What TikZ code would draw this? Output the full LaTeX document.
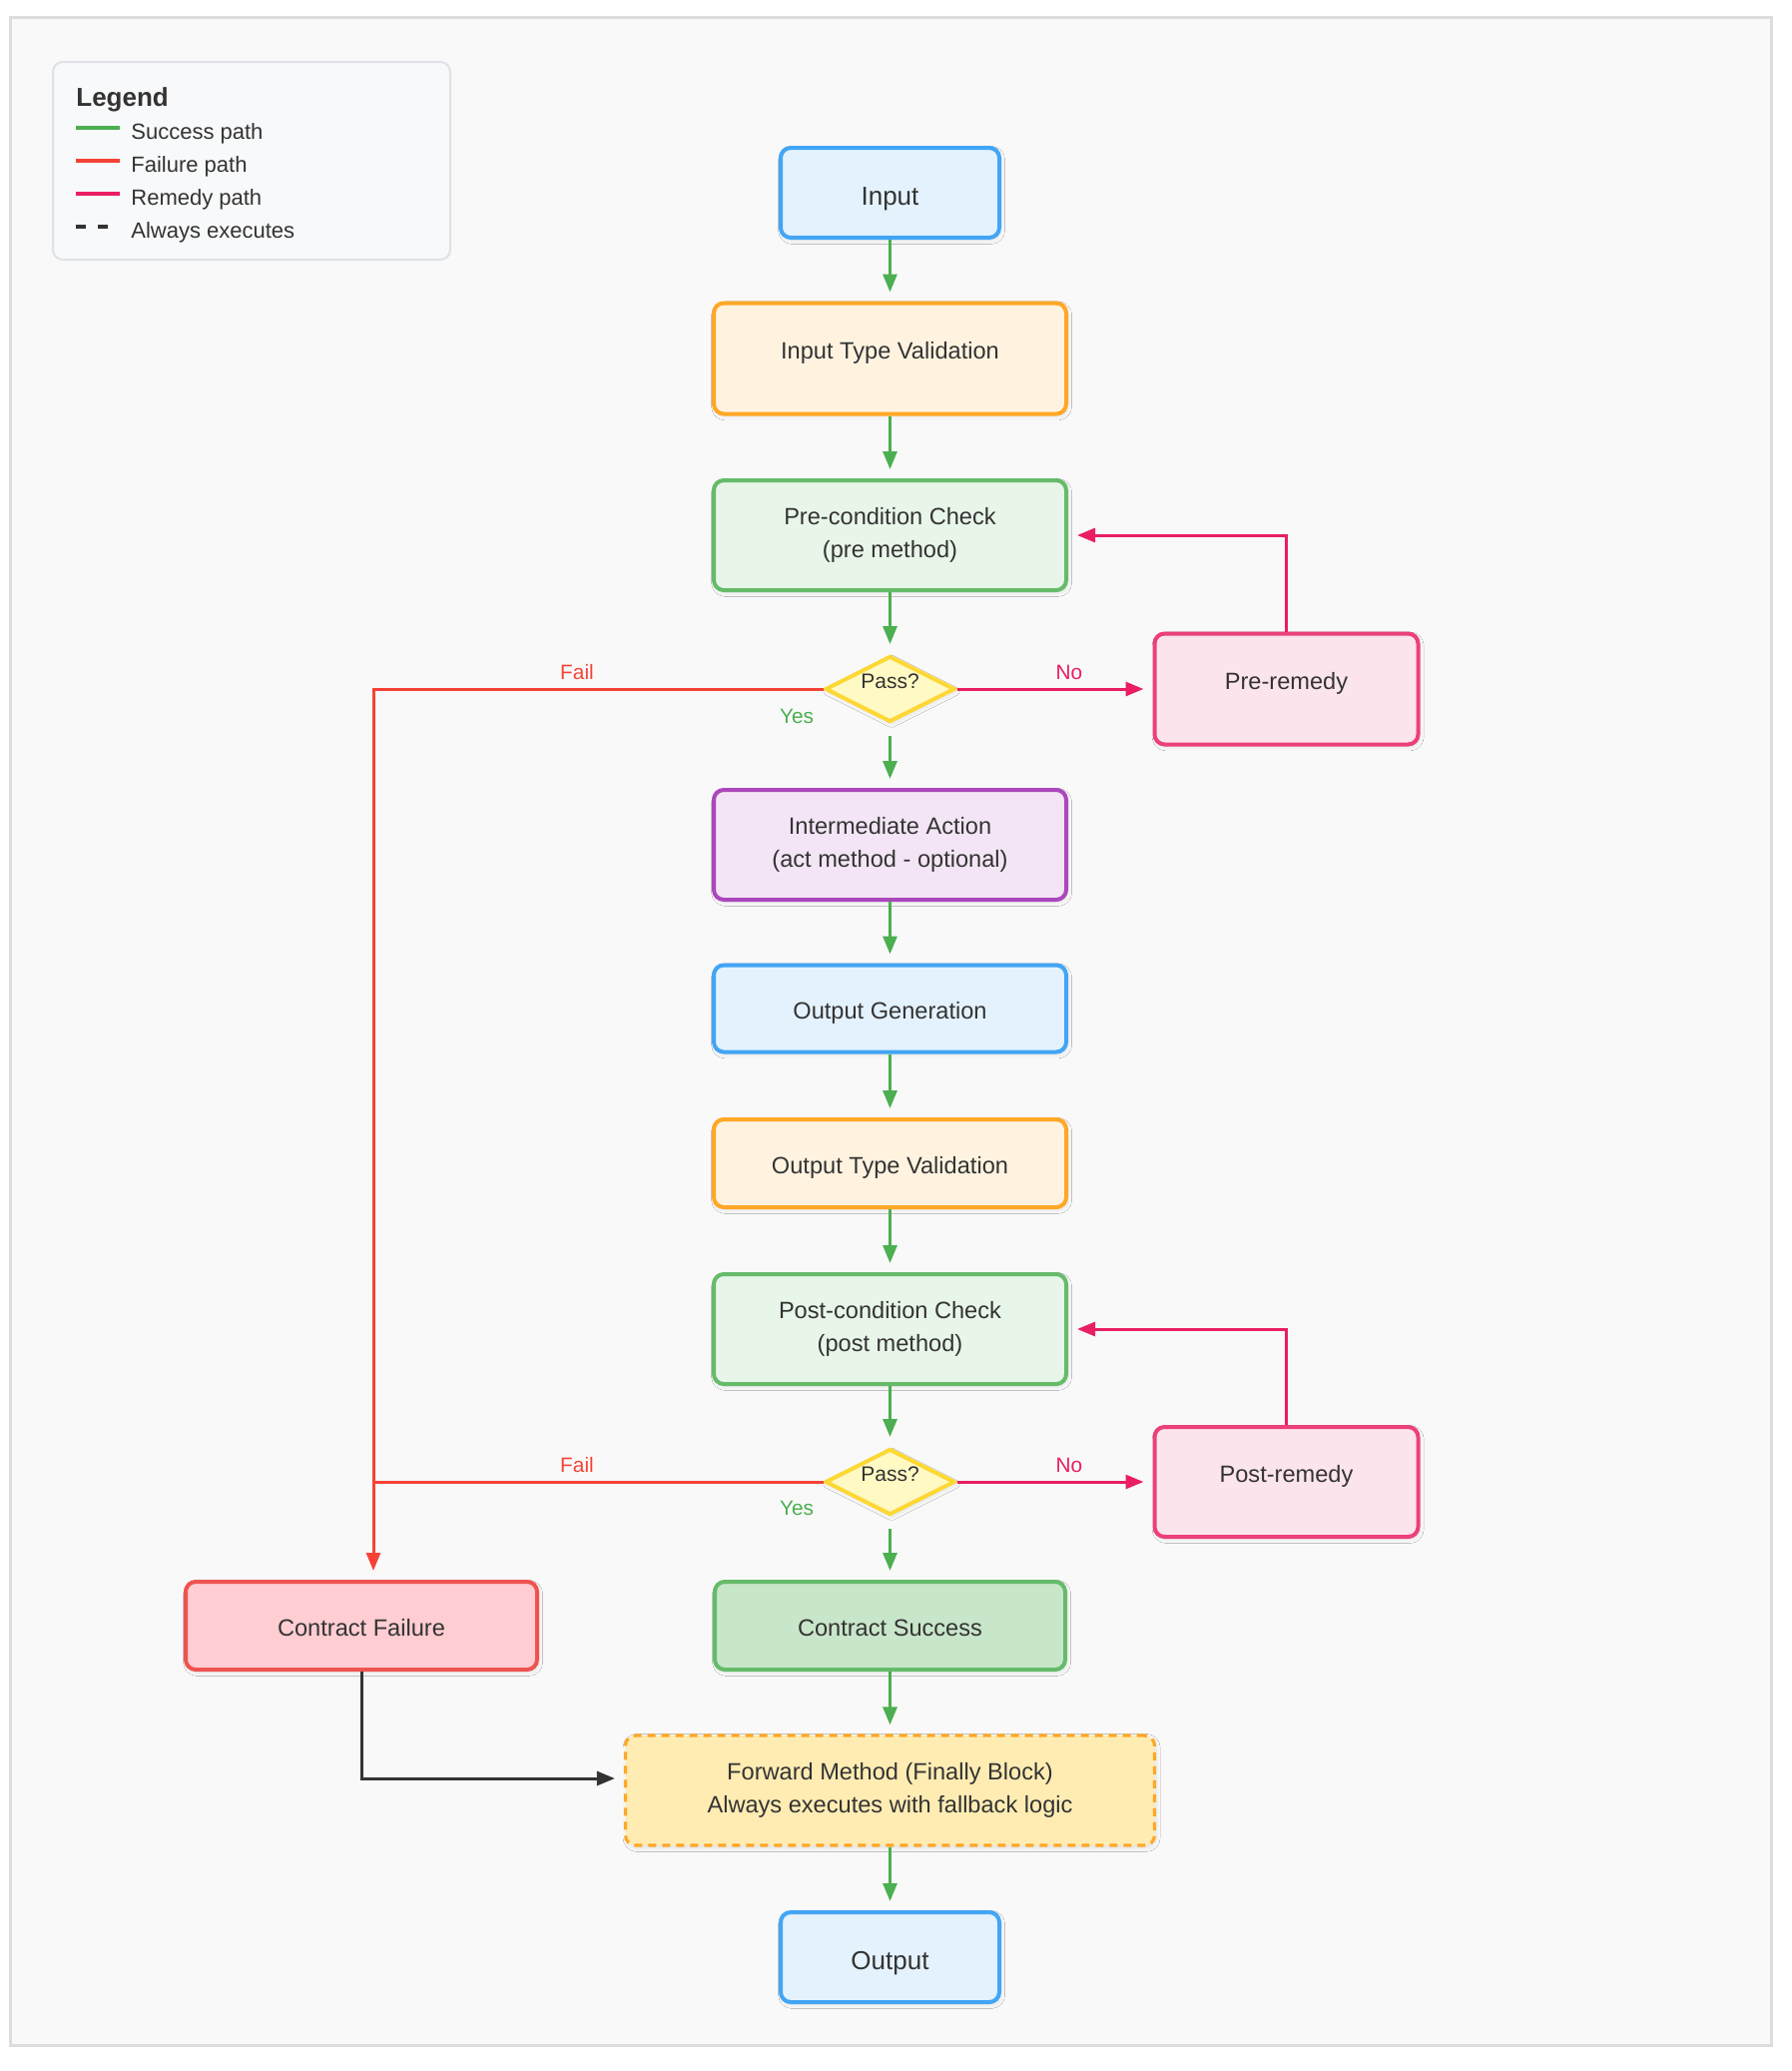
\documentclass[tikz,border=0pt]{standalone}
\usepackage{fontspec}
\setmainfont{Liberation Sans}
\usetikzlibrary{shapes.geometric,arrows.meta,shadows.blur}
\definecolor{txt}{HTML}{333333}
\definecolor{bgc}{HTML}{F9F9F9}
\definecolor{frm}{HTML}{DDDDDD}
\definecolor{succ}{HTML}{4CAF50}
\definecolor{failc}{HTML}{F44336}
\definecolor{remc}{HTML}{E91E63}
\definecolor{blkc}{HTML}{333333}
\definecolor{blueF}{HTML}{E3F2FD}\definecolor{blueD}{HTML}{42A5F5}
\definecolor{orF}{HTML}{FFF3E0}\definecolor{orD}{HTML}{FFA726}
\definecolor{grF}{HTML}{E8F5E9}\definecolor{grD}{HTML}{66BB6A}
\definecolor{yeF}{HTML}{FFF9C4}\definecolor{yeD}{HTML}{FDD835}
\definecolor{piF}{HTML}{FCE4EC}\definecolor{piD}{HTML}{EC407A}
\definecolor{puF}{HTML}{F3E5F5}\definecolor{puD}{HTML}{AB47BC}
\definecolor{rdF}{HTML}{FFCDD2}\definecolor{rdD}{HTML}{EF5350}
\definecolor{sgF}{HTML}{C8E6C9}
\definecolor{fwF}{HTML}{FFECB3}
\definecolor{lgF}{HTML}{F8F9FA}\definecolor{lgD}{HTML}{DEE2E6}
\tikzset{
  soft/.style={blur shadow={shadow xshift=0.8pt, shadow yshift=-1.2pt, shadow blur radius=2pt, shadow opacity=10}},
  box/.style={rectangle, rounded corners=5pt, line width=2pt, align=center, text=txt,
    inner sep=0pt, minimum width=176.5pt, minimum height=55pt,
    font=\fontsize{11.8}{16.5}\selectfont, soft},
  one/.style={text height=11.8pt, text depth=1.4pt},
  high/.style={text height=7pt, text depth=6.6pt},
  bluebox/.style={box, fill=blueF, draw=blueD},
  orbox/.style={box, fill=orF, draw=orD},
  grbox/.style={box, fill=grF, draw=grD},
  pibox/.style={box, fill=piF, draw=piD},
  dec/.style={diamond, aspect=2, minimum width=65pt, minimum height=33pt, inner sep=0pt,
    fill=yeF, draw=yeD, line width=2pt, text=txt, font=\fontsize{10.5}{12}\selectfont,
    text height=5pt, text depth=5.5pt, soft},
  conn/.style={line width=1.5pt, -{Triangle[length=9pt,width=7pt]}, shorten >=4.5pt},
  sarr/.style={conn, draw=succ},
  farr/.style={conn, draw=failc},
  rarr/.style={conn, draw=remc},
  barr/.style={conn, draw=blkc},
  lbl/.style={font=\fontsize{10.4}{12}\selectfont, inner sep=0pt},
  legtxt/.style={font=\fontsize{11}{13}\selectfont, text=txt, anchor=west, inner sep=0pt},
}
\begin{document}
\begin{tikzpicture}[x=0.5pt, y=-0.5pt]
\useasboundingbox (0,0) rectangle (1795,2074);
\fill[white] (0,0) rectangle (1795,2074);
\draw[fill=bgc, draw=frm, line width=1.5pt] (10,17) rectangle (1774,2048);

% Legend
\draw[fill=lgF, draw=lgD, line width=1pt, rounded corners=5pt] (53,62) rectangle (451,260);
\node[anchor=west, inner sep=0pt, text=txt, font=\fontsize{13}{15}\bfseries\selectfont] (legt) at (76,100) {Legend};
\draw[succ, line width=2pt] (76,128) -- (120,128);
\node[legtxt] (l1) at (131,134) {Success path};
\draw[failc, line width=2pt] (76,161) -- (120,161);
\node[legtxt] (l2) at (131,167) {Failure path};
\draw[remc, line width=2pt] (76,194) -- (120,194);
\node[legtxt] (l3) at (131,200) {Remedy path};
\draw[blkc, line width=2pt] (76,227) -- (86,227) (98,227) -- (108,227);
\node[legtxt] (l4) at (131,233) {Always executes};

% Nodes
\node[bluebox, minimum width=109.5pt, minimum height=45pt, font=\fontsize{13}{15}\selectfont, text height=13pt, text depth=1pt] (in) at (891.5,193) {Input};
\node[orbox, high, minimum height=55.5pt] (itv) at (891.5,359) {Input Type Validation};
\node[grbox] (pre) at (891.5,536) {Pre-condition Check\\(pre method)};
\node[dec] (d1) at (891.5,690) {Pass?};
\node[pibox, high, minimum width=132pt, minimum height=55.5pt] (prem) at (1288.5,690) {Pre-remedy};
\node[box, fill=puF, draw=puD] (act) at (891.5,846) {Intermediate Action\\(act method - optional)};
\node[bluebox, one, minimum height=43.5pt] (og) at (891.5,1010) {Output Generation};
\node[orbox, one, minimum height=44pt] (otv) at (891.5,1165) {Output Type Validation};
\node[grbox] (post) at (891.5,1331) {Post-condition Check\\(post method)};
\node[dec] (d2) at (891.5,1484) {Pass?};
\node[pibox, high, minimum width=132pt, minimum height=55pt] (postrem) at (1288.5,1484) {Post-remedy};
\node[box, one, fill=rdF, draw=rdD, minimum width=176pt, minimum height=44pt] (cf) at (362,1628) {Contract Failure};
\node[box, one, fill=sgF, draw=grD, minimum width=175.5pt, minimum height=44pt] (cs) at (891.5,1628) {Contract Success};
\node[box, fill=fwF, draw=orD, dash pattern=on 4pt off 3pt, line width=1.6pt, minimum width=265pt, minimum height=55pt] (fwd) at (891.5,1793) {Forward Method (Finally Block)\\Always executes with fallback logic};
\node[bluebox, minimum width=109.5pt, minimum height=45pt, font=\fontsize{13}{15}\selectfont, text height=13pt, text depth=1pt] (out) at (891.5,1960) {Output};

% Success path
\draw[sarr] (in) -- (itv);
\draw[sarr] (itv) -- (pre);
\draw[sarr, shorten >=5pt] (pre) -- (d1);
\draw[sarr, shorten <=6pt] (d1) -- (act);
\draw[sarr] (act) -- (og);
\draw[sarr] (og) -- (otv);
\draw[sarr] (otv) -- (post);
\draw[sarr, shorten >=5pt] (post) -- (d2);
\draw[sarr, shorten <=6pt] (d2) -- (cs);
\draw[sarr] (cs) -- (fwd);
\draw[sarr] (fwd) -- (out);

% Remedy path
\draw[rarr] (d1.east) -- (prem.west);
\draw[rarr] (prem.north) -- (prem.north |- pre.east) -- (pre.east);
\draw[rarr] (d2.east) -- (postrem.west);
\draw[rarr] (postrem.north) -- (postrem.north |- post.east) -- (post.east);

% Failure path
\coordinate (fj1) at (374,690);
\coordinate (fj2) at (374,1484);
\draw[farr] (d1.west) -- (fj1) -- (fj1 |- cf.north);
\draw[failc, line width=1.5pt] (d2.west) -- (fj2);

% Always executes
\coordinate (fwin) at ([yshift=6pt]fwd.west);
\draw[barr] (cf.south) -- (cf.south |- fwin) -- (fwin);

% Labels
\node[lbl, text=failc] (fl1) at (578,673) {Fail};
\node[lbl, text=remc] (nl1) at (1071,673) {No};
\node[lbl, text=succ] (yl1) at (798,717) {Yes};
\node[lbl, text=failc] (fl2) at (578,1467) {Fail};
\node[lbl, text=remc] (nl2) at (1071,1467) {No};
\node[lbl, text=succ] (yl2) at (798,1510) {Yes};
\end{tikzpicture}
\end{document}
